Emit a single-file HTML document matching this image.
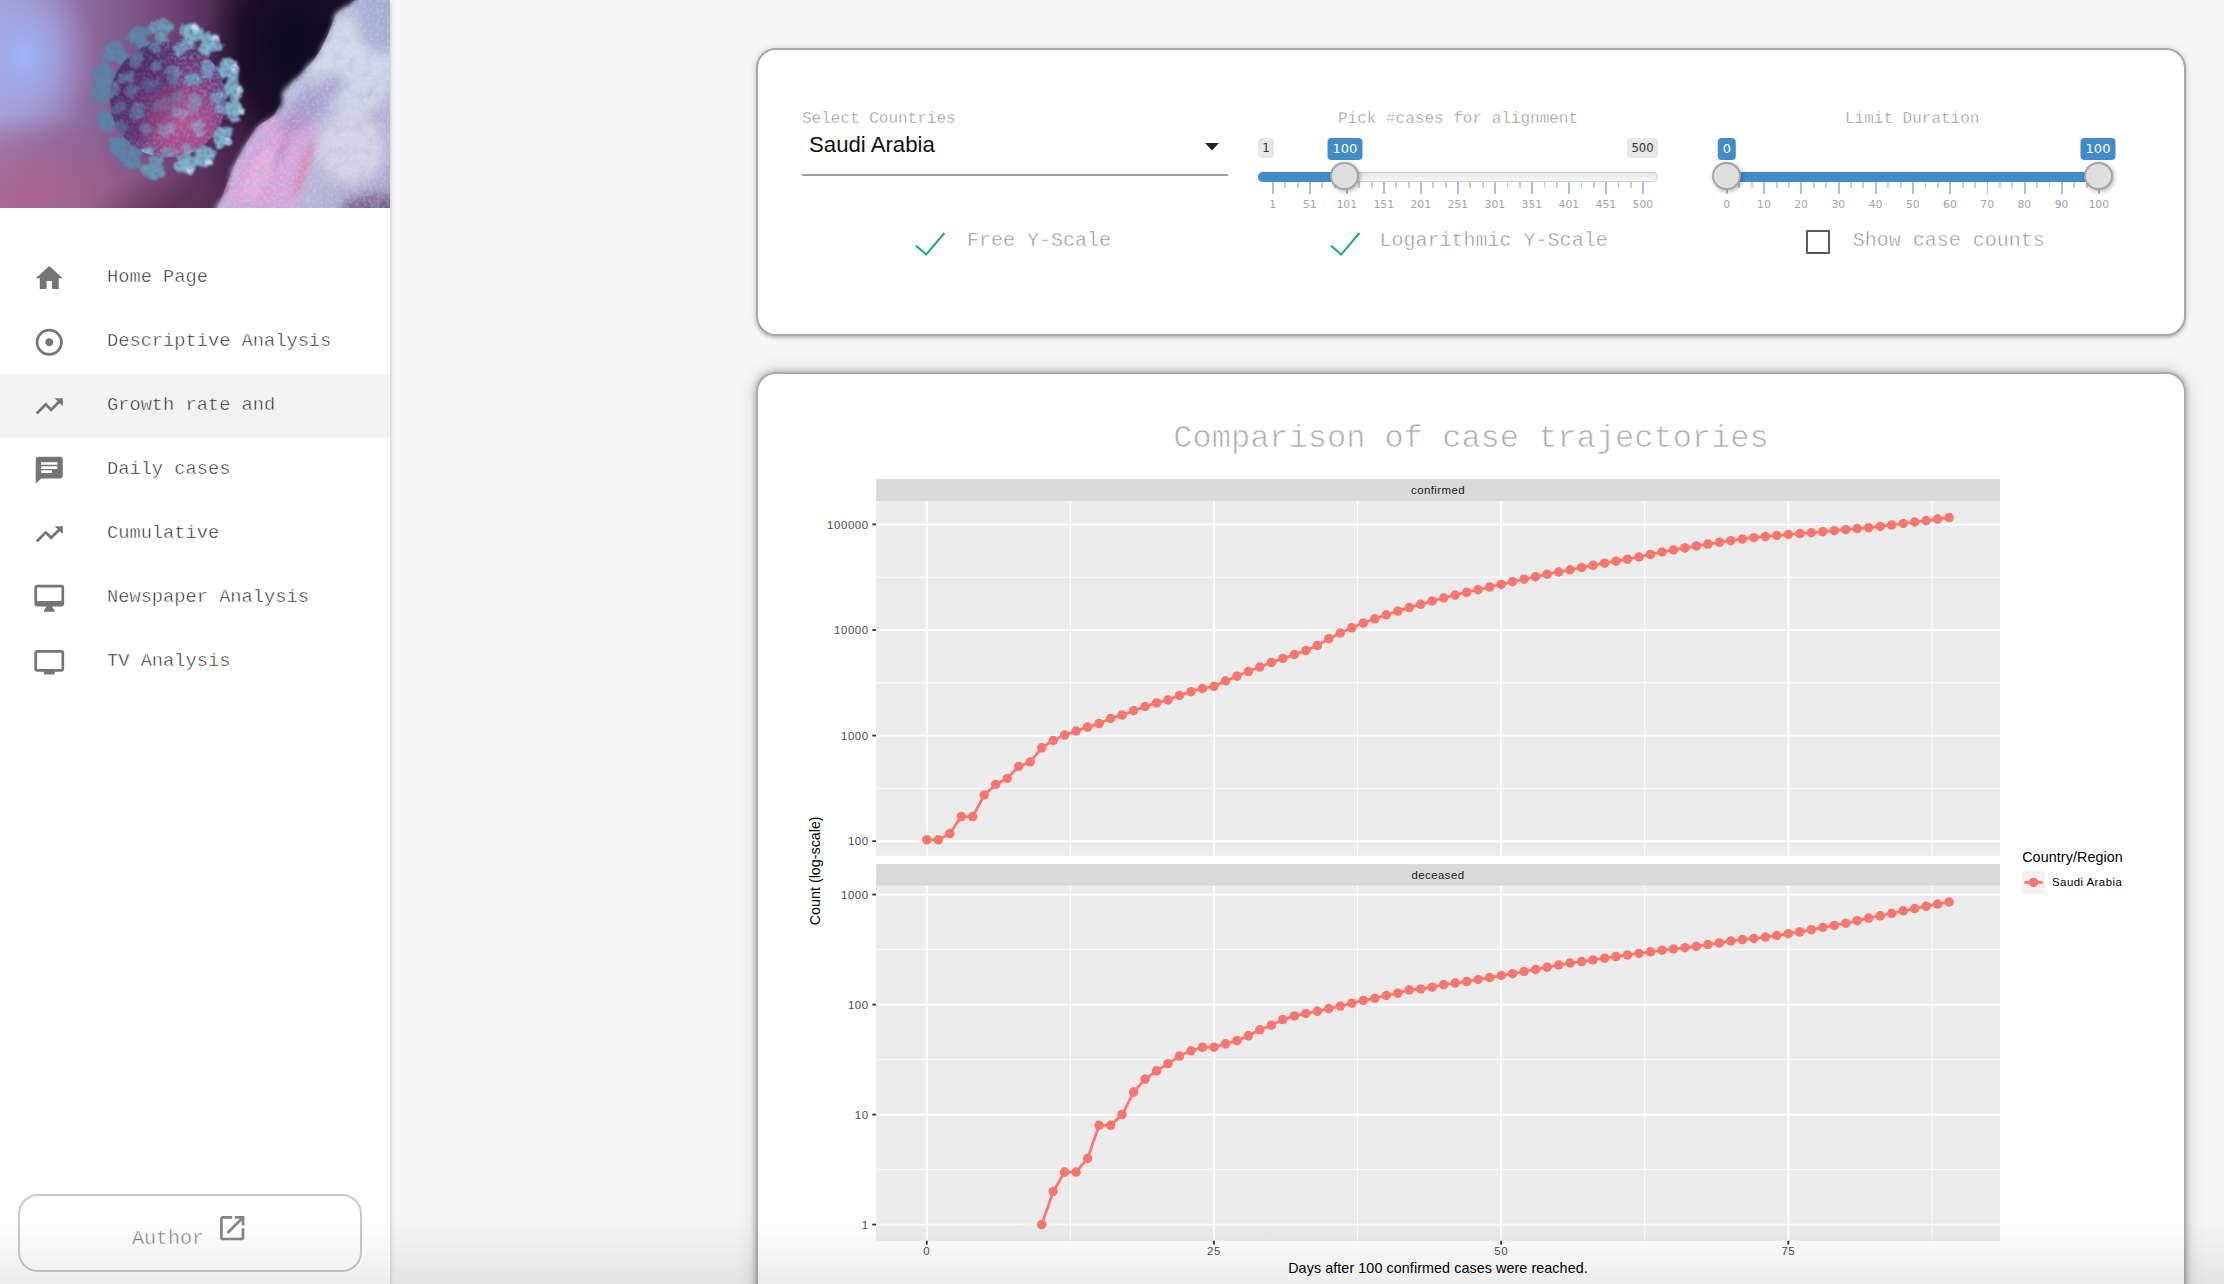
<!DOCTYPE html><html><head><meta charset="utf-8"><title>COVID-19 Growth rate</title><style>
*{box-sizing:border-box;margin:0;padding:0}
html,body{width:2224px;height:1284px;overflow:hidden;background:#f5f5f5}
body{position:relative;font-family:"Liberation Mono", monospace;color:#333}
.abs{position:absolute}
#side{position:absolute;left:0;top:0;width:390px;height:1284px;background:#fff;
  box-shadow:0 3px 3px 0 rgba(0,0,0,0.14),0 1px 7px 0 rgba(0,0,0,0.12),0 4px 1px -2px rgba(0,0,0,0.2)}
#hero{position:absolute;left:0;top:0;width:390px;height:208px;overflow:hidden}
.nav{position:absolute;left:0;width:390px;height:64px}
.nav.act{background:#f2f2f2}
.nav svg{position:absolute;left:33px;top:16.1px;width:32.5px;height:32.5px;fill:#757575}
.nav span{position:absolute;left:107px;top:-0.7px;height:64px;line-height:64px;font-size:18.7px;color:#222;-webkit-text-stroke:0.5px #fff;white-space:pre}
.nav.act span{-webkit-text-stroke-color:#f2f2f2}
#author{position:absolute;left:18px;top:1194px;width:344px;height:78px;border:2px solid #c9c9c9;border-radius:20px;background:#fff}
.card{position:absolute;background:#fff;border:2px solid #a8a8a8;border-radius:20px}
.sa{font-family:"Liberation Sans", sans-serif;font-size:22.2px;line-height:28px;color:#111;white-space:pre}
.lbl{position:absolute;font-size:16px;color:#909090;-webkit-text-stroke:0.4px #fff;white-space:pre;line-height:20px}
.cb{position:absolute;font-size:20px;color:#909090;-webkit-text-stroke:0.5px #fff;white-space:pre;line-height:24px}
.irs{position:absolute;font-family:"DejaVu Sans", "Liberation Sans", sans-serif}
.irs div{position:absolute}
.irs .line{left:0;top:0;width:400px;height:10.4px;border:1.3px solid #ccc;border-radius:10.4px;background:linear-gradient(to bottom,#ddd -50%,#fff 150%)}
.irs .bar{height:10.4px;background:#428bca;border-top:1.3px solid #428bca;border-bottom:1.3px solid #428bca}
.irs .h{width:29px;height:28.2px;border-radius:50%;border:2.2px solid #a6a6a6;background:#dedede;box-shadow:1.3px 1.3px 4px rgba(0,0,0,0.32)}
.irs .mm{background:#e6e6e6;color:#333;font-size:11.7px;line-height:18.3px;padding:1.3px 4.3px 0;border-radius:4px;white-space:pre}
.irs .sg{background:#428bca;color:#fff;font-size:13px;line-height:19px;padding:0.7px 5.1px 1.9px;border-radius:4px;white-space:pre;text-align:center}
.irs .gt{color:#99a4ac;font-size:10.8px;line-height:12px;white-space:pre;transform:translateX(-50%)}
.irs .bt{width:1.9px;height:11.8px;background:rgba(66,139,202,0.5)}
.irs .st{width:1.9px;height:6px;background:rgba(153,153,153,0.5)}
</style></head><body><div class="card" id="c1" style="left:756px;top:48px;width:1430px;height:288px;box-shadow:0 2px 3px rgba(0,0,0,0.18),0 0 7px rgba(0,0,0,0.12)"></div><div class="lbl" style="left:802px;top:108.5px">Select Countries</div><div class="abs sa" style="left:809px;top:131px">Saudi Arabia</div><svg class="abs" style="left:1205px;top:143px" width="14" height="8" viewBox="0 0 14 8"><path d="M0 0h14L7 7.5z" fill="#222"/></svg><div class="abs" style="left:802px;top:173.6px;width:426px;height:2px;background:#9e9e9e"></div><div class="lbl" style="left:1338px;top:108.5px">Pick #cases for alignment</div><div class="lbl" style="left:1845px;top:108.5px">Limit Duration</div><div class="irs" style="left:1258px;top:138px;width:400px;height:80px"><div class="line" style="top:34px"></div><div class="bar" style="left:5px;top:34px;width:83.1465px;border-radius:10px 0 0 10px"></div><div class="bar" style="left:0;top:34px;width:12px;border-radius:10.4px 0 0 10.4px"></div><div class="bt" style="left:14.05px;top:44px"></div><div class="gt" style="left:14.7px;top:61px">1</div><div class="st" style="left:26.39px;top:44px"></div><div class="st" style="left:38.73px;top:44px"></div><div class="bt" style="left:51.07px;top:44px"></div><div class="gt" style="left:51.72px;top:61px">51</div><div class="st" style="left:63.41px;top:44px"></div><div class="st" style="left:75.75px;top:44px"></div><div class="bt" style="left:88.09px;top:44px"></div><div class="gt" style="left:88.74px;top:61px">101</div><div class="st" style="left:100.43px;top:44px"></div><div class="st" style="left:112.77px;top:44px"></div><div class="bt" style="left:125.11px;top:44px"></div><div class="gt" style="left:125.76px;top:61px">151</div><div class="st" style="left:137.45px;top:44px"></div><div class="st" style="left:149.79px;top:44px"></div><div class="bt" style="left:162.13px;top:44px"></div><div class="gt" style="left:162.78px;top:61px">201</div><div class="st" style="left:174.47px;top:44px"></div><div class="st" style="left:186.81px;top:44px"></div><div class="bt" style="left:199.15px;top:44px"></div><div class="gt" style="left:199.8px;top:61px">251</div><div class="st" style="left:211.49px;top:44px"></div><div class="st" style="left:223.83px;top:44px"></div><div class="bt" style="left:236.17px;top:44px"></div><div class="gt" style="left:236.82px;top:61px">301</div><div class="st" style="left:248.51px;top:44px"></div><div class="st" style="left:260.85px;top:44px"></div><div class="bt" style="left:273.19px;top:44px"></div><div class="gt" style="left:273.84px;top:61px">351</div><div class="st" style="left:285.53px;top:44px"></div><div class="st" style="left:297.87px;top:44px"></div><div class="bt" style="left:310.21px;top:44px"></div><div class="gt" style="left:310.86px;top:61px">401</div><div class="st" style="left:322.55px;top:44px"></div><div class="st" style="left:334.89px;top:44px"></div><div class="bt" style="left:347.23px;top:44px"></div><div class="gt" style="left:347.88px;top:61px">451</div><div class="st" style="left:359.57px;top:44px"></div><div class="st" style="left:371.91px;top:44px"></div><div class="bt" style="left:384.25px;top:44px"></div><div class="gt" style="left:384.9px;top:61px">500</div><div class="mm" style="left:0;top:0">1</div><div class="mm" style="right:0;top:0">500</div><div class="sg" style="left:86.8px;top:0;transform:translateX(-50%)">100</div><div class="h" style="left:72.3px;top:24.1px"></div></div><div class="irs" style="left:1712px;top:138px;width:400px;height:80px"><div class="line" style="top:34px"></div><div class="bar" style="left:14.7px;top:34px;width:372.1px"></div><div class="bt" style="left:14.05px;top:44px"></div><div class="gt" style="left:14.7px;top:61px">0</div><div class="st" style="left:26.4533px;top:44px"></div><div class="st" style="left:38.8567px;top:44px"></div><div class="bt" style="left:51.26px;top:44px"></div><div class="gt" style="left:51.91px;top:61px">10</div><div class="st" style="left:63.6633px;top:44px"></div><div class="st" style="left:76.0667px;top:44px"></div><div class="bt" style="left:88.47px;top:44px"></div><div class="gt" style="left:89.12px;top:61px">20</div><div class="st" style="left:100.873px;top:44px"></div><div class="st" style="left:113.277px;top:44px"></div><div class="bt" style="left:125.68px;top:44px"></div><div class="gt" style="left:126.33px;top:61px">30</div><div class="st" style="left:138.083px;top:44px"></div><div class="st" style="left:150.487px;top:44px"></div><div class="bt" style="left:162.89px;top:44px"></div><div class="gt" style="left:163.54px;top:61px">40</div><div class="st" style="left:175.293px;top:44px"></div><div class="st" style="left:187.697px;top:44px"></div><div class="bt" style="left:200.1px;top:44px"></div><div class="gt" style="left:200.75px;top:61px">50</div><div class="st" style="left:212.503px;top:44px"></div><div class="st" style="left:224.907px;top:44px"></div><div class="bt" style="left:237.31px;top:44px"></div><div class="gt" style="left:237.96px;top:61px">60</div><div class="st" style="left:249.713px;top:44px"></div><div class="st" style="left:262.117px;top:44px"></div><div class="bt" style="left:274.52px;top:44px"></div><div class="gt" style="left:275.17px;top:61px">70</div><div class="st" style="left:286.923px;top:44px"></div><div class="st" style="left:299.327px;top:44px"></div><div class="bt" style="left:311.73px;top:44px"></div><div class="gt" style="left:312.38px;top:61px">80</div><div class="st" style="left:324.133px;top:44px"></div><div class="st" style="left:336.537px;top:44px"></div><div class="bt" style="left:348.94px;top:44px"></div><div class="gt" style="left:349.59px;top:61px">90</div><div class="st" style="left:361.343px;top:44px"></div><div class="st" style="left:373.747px;top:44px"></div><div class="bt" style="left:386.15px;top:44px"></div><div class="gt" style="left:386.8px;top:61px">100</div><div class="sg" style="left:14.9px;top:0;transform:translateX(-50%)">0</div><div class="h" style="left:0.4px;top:24.1px"></div><div class="sg" style="left:386px;top:0;transform:translateX(-50%)">100</div><div class="h" style="left:371.5px;top:24.1px"></div></div><svg class="abs" style="left:915.3px;top:228px" width="40" height="32" viewBox="0 0 40 32"><path d="M0.9 17.6L11.2 26.5L29.4 5" fill="none" stroke="#26a69a" stroke-width="2.1"/></svg><div class="cb" style="left:967px;top:229px">Free Y-Scale</div><svg class="abs" style="left:1329.5px;top:228px" width="40" height="32" viewBox="0 0 40 32"><path d="M0.9 17.6L11.2 26.5L29.4 5" fill="none" stroke="#26a69a" stroke-width="2.1"/></svg><div class="cb" style="left:1379.6px;top:229px">Logarithmic Y-Scale</div><div class="abs" style="left:1806.3px;top:230.3px;width:23.5px;height:23.5px;border:2.6px solid #5a5a5a;border-radius:1.3px"></div><div class="cb" style="left:1852.8px;top:229px">Show case counts</div><div class="card" id="c2" style="left:756px;top:372px;width:1430px;height:960px;border-color:#adadad;box-shadow:0 0 6px rgba(0,0,0,0.32),0 0 22px rgba(0,0,0,0.13)"></div><div class="abs" style="left:758px;top:418.7px;width:1426px;text-align:center;font-size:32px;line-height:40px;color:#adadad;-webkit-text-stroke:0.7px #fff;white-space:pre">Comparison of case trajectories</div><svg class="abs" style="left:0;top:0" width="2224" height="1284" viewBox="0 0 2224 1284" font-family="Liberation Sans, sans-serif"><rect x="876.1" y="479.1" width="1123.9" height="22" fill="#d9d9d9"/><rect x="876.1" y="501.1" width="1123.9" height="354.7" fill="#ebebeb"/><text x="1438.05" y="494.2" text-anchor="middle" font-size="11.44" letter-spacing="0.42" fill="#1a1a1a">confirmed</text><rect x="876.1" y="864.1" width="1123.9" height="21.7" fill="#d9d9d9"/><rect x="876.1" y="885.8" width="1123.9" height="355" fill="#ebebeb"/><text x="1438.05" y="879.05" text-anchor="middle" font-size="11.44" letter-spacing="0.42" fill="#1a1a1a">deceased</text><path d="M1070.39 501.1V855.8" stroke="#fff" stroke-width="0.9"/><path d="M1357.56 501.1V855.8" stroke="#fff" stroke-width="0.9"/><path d="M1644.74 501.1V855.8" stroke="#fff" stroke-width="0.9"/><path d="M1931.91 501.1V855.8" stroke="#fff" stroke-width="0.9"/><path d="M876.1 788.4H2000" stroke="#fff" stroke-width="0.9"/><path d="M876.1 682.8H2000" stroke="#fff" stroke-width="0.9"/><path d="M876.1 577.2H2000" stroke="#fff" stroke-width="0.9"/><path d="M926.8 501.1V855.8" stroke="#fff" stroke-width="1.85"/><path d="M1213.97 501.1V855.8" stroke="#fff" stroke-width="1.85"/><path d="M1501.15 501.1V855.8" stroke="#fff" stroke-width="1.85"/><path d="M1788.32 501.1V855.8" stroke="#fff" stroke-width="1.85"/><path d="M876.1 841.2H2000" stroke="#fff" stroke-width="1.85"/><path d="M876.1 735.6H2000" stroke="#fff" stroke-width="1.85"/><path d="M876.1 630H2000" stroke="#fff" stroke-width="1.85"/><path d="M876.1 524.4H2000" stroke="#fff" stroke-width="1.85"/><path d="M1070.39 885.8V1240.8" stroke="#fff" stroke-width="0.9"/><path d="M1357.56 885.8V1240.8" stroke="#fff" stroke-width="0.9"/><path d="M1644.74 885.8V1240.8" stroke="#fff" stroke-width="0.9"/><path d="M1931.91 885.8V1240.8" stroke="#fff" stroke-width="0.9"/><path d="M876.1 1169.6H2000" stroke="#fff" stroke-width="0.9"/><path d="M876.1 1059.6H2000" stroke="#fff" stroke-width="0.9"/><path d="M876.1 949.6H2000" stroke="#fff" stroke-width="0.9"/><path d="M926.8 885.8V1240.8" stroke="#fff" stroke-width="1.85"/><path d="M1213.97 885.8V1240.8" stroke="#fff" stroke-width="1.85"/><path d="M1501.15 885.8V1240.8" stroke="#fff" stroke-width="1.85"/><path d="M1788.32 885.8V1240.8" stroke="#fff" stroke-width="1.85"/><path d="M876.1 1224.6H2000" stroke="#fff" stroke-width="1.85"/><path d="M876.1 1114.6H2000" stroke="#fff" stroke-width="1.85"/><path d="M876.1 1004.6H2000" stroke="#fff" stroke-width="1.85"/><path d="M876.1 894.6H2000" stroke="#fff" stroke-width="1.85"/><path d="M872.3 841.2H876.1" stroke="#333" stroke-width="1.85"/><text x="868.8" y="845.3" text-anchor="end" font-size="11.44" letter-spacing="0.6" fill="#4d4d4d">100</text><path d="M872.3 735.6H876.1" stroke="#333" stroke-width="1.85"/><text x="868.8" y="739.7" text-anchor="end" font-size="11.44" letter-spacing="0.6" fill="#4d4d4d">1000</text><path d="M872.3 630H876.1" stroke="#333" stroke-width="1.85"/><text x="868.8" y="634.1" text-anchor="end" font-size="11.44" letter-spacing="0.6" fill="#4d4d4d">10000</text><path d="M872.3 524.4H876.1" stroke="#333" stroke-width="1.85"/><text x="868.8" y="528.5" text-anchor="end" font-size="11.44" letter-spacing="0.6" fill="#4d4d4d">100000</text><path d="M872.3 1224.6H876.1" stroke="#333" stroke-width="1.85"/><text x="868.8" y="1228.7" text-anchor="end" font-size="11.44" letter-spacing="0.6" fill="#4d4d4d">1</text><path d="M872.3 1114.6H876.1" stroke="#333" stroke-width="1.85"/><text x="868.8" y="1118.7" text-anchor="end" font-size="11.44" letter-spacing="0.6" fill="#4d4d4d">10</text><path d="M872.3 1004.6H876.1" stroke="#333" stroke-width="1.85"/><text x="868.8" y="1008.7" text-anchor="end" font-size="11.44" letter-spacing="0.6" fill="#4d4d4d">100</text><path d="M872.3 894.6H876.1" stroke="#333" stroke-width="1.85"/><text x="868.8" y="898.7" text-anchor="end" font-size="11.44" letter-spacing="0.6" fill="#4d4d4d">1000</text><path d="M926.8 1240.8V1244.6" stroke="#333" stroke-width="1.85"/><text x="926.8" y="1254.9" text-anchor="middle" font-size="11.44" letter-spacing="0.5" fill="#4d4d4d">0</text><path d="M1213.97 1240.8V1244.6" stroke="#333" stroke-width="1.85"/><text x="1213.97" y="1254.9" text-anchor="middle" font-size="11.44" letter-spacing="0.5" fill="#4d4d4d">25</text><path d="M1501.15 1240.8V1244.6" stroke="#333" stroke-width="1.85"/><text x="1501.15" y="1254.9" text-anchor="middle" font-size="11.44" letter-spacing="0.5" fill="#4d4d4d">50</text><path d="M1788.32 1240.8V1244.6" stroke="#333" stroke-width="1.85"/><text x="1788.32" y="1254.9" text-anchor="middle" font-size="11.44" letter-spacing="0.5" fill="#4d4d4d">75</text><text x="1438" y="1272.9" text-anchor="middle" font-size="14.3" letter-spacing="0.09" fill="#000">Days after 100 confirmed cases were reached.</text><text transform="translate(819.8 870.8) rotate(-90)" text-anchor="middle" font-size="14.3" fill="#000">Count (log-scale)</text><polyline fill="none" stroke="#f8766d" stroke-width="2.7" stroke-linejoin="round" points="926.8,839.8 938.3,839.8 949.8,833.6 961.3,816.6 972.7,816.6 984.2,795.0 995.7,784.5 1007.2,778.5 1018.7,766.4 1030.2,762.0 1041.7,747.8 1053.2,740.4 1064.6,735.1 1076.1,731.1 1087.6,727.1 1099.1,723.6 1110.6,718.5 1122.1,715.1 1133.6,710.7 1145.1,706.5 1156.5,702.9 1168.0,699.9 1179.5,695.4 1191.0,691.7 1202.5,688.5 1214.0,686.3 1225.5,681.0 1236.9,676.2 1248.4,671.6 1259.9,667.0 1271.4,662.4 1282.9,658.5 1294.4,654.5 1305.9,650.6 1317.4,645.4 1328.8,638.7 1340.3,633.0 1351.8,627.8 1363.3,623.1 1374.8,618.8 1386.3,614.8 1397.8,611.1 1409.3,607.6 1420.7,604.3 1432.2,601.0 1443.7,598.0 1455.2,595.1 1466.7,592.3 1478.2,589.7 1489.7,587.1 1501.2,584.4 1512.6,581.7 1524.1,579.2 1535.6,576.7 1547.1,574.2 1558.6,572.0 1570.1,569.8 1581.6,567.5 1593.0,565.3 1604.5,563.2 1616.0,561.2 1627.5,559.2 1639.0,557.0 1650.5,554.4 1662.0,552.0 1673.5,549.9 1684.9,547.9 1696.4,545.9 1707.9,544.1 1719.4,542.3 1730.9,540.7 1742.4,539.1 1753.9,537.7 1765.4,536.6 1776.8,535.5 1788.3,534.5 1799.8,533.6 1811.3,532.7 1822.8,531.7 1834.3,530.7 1845.8,529.7 1857.2,528.6 1868.7,527.7 1880.2,526.4 1891.7,524.9 1903.2,523.5 1914.7,522.0 1926.2,520.6 1937.7,519.1 1949.1,517.6"/><g fill="#f8766d"><circle cx="926.8" cy="839.8" r="4.75"/><circle cx="938.3" cy="839.8" r="4.75"/><circle cx="949.8" cy="833.6" r="4.75"/><circle cx="961.3" cy="816.6" r="4.75"/><circle cx="972.7" cy="816.6" r="4.75"/><circle cx="984.2" cy="795.0" r="4.75"/><circle cx="995.7" cy="784.5" r="4.75"/><circle cx="1007.2" cy="778.5" r="4.75"/><circle cx="1018.7" cy="766.4" r="4.75"/><circle cx="1030.2" cy="762.0" r="4.75"/><circle cx="1041.7" cy="747.8" r="4.75"/><circle cx="1053.2" cy="740.4" r="4.75"/><circle cx="1064.6" cy="735.1" r="4.75"/><circle cx="1076.1" cy="731.1" r="4.75"/><circle cx="1087.6" cy="727.1" r="4.75"/><circle cx="1099.1" cy="723.6" r="4.75"/><circle cx="1110.6" cy="718.5" r="4.75"/><circle cx="1122.1" cy="715.1" r="4.75"/><circle cx="1133.6" cy="710.7" r="4.75"/><circle cx="1145.1" cy="706.5" r="4.75"/><circle cx="1156.5" cy="702.9" r="4.75"/><circle cx="1168.0" cy="699.9" r="4.75"/><circle cx="1179.5" cy="695.4" r="4.75"/><circle cx="1191.0" cy="691.7" r="4.75"/><circle cx="1202.5" cy="688.5" r="4.75"/><circle cx="1214.0" cy="686.3" r="4.75"/><circle cx="1225.5" cy="681.0" r="4.75"/><circle cx="1236.9" cy="676.2" r="4.75"/><circle cx="1248.4" cy="671.6" r="4.75"/><circle cx="1259.9" cy="667.0" r="4.75"/><circle cx="1271.4" cy="662.4" r="4.75"/><circle cx="1282.9" cy="658.5" r="4.75"/><circle cx="1294.4" cy="654.5" r="4.75"/><circle cx="1305.9" cy="650.6" r="4.75"/><circle cx="1317.4" cy="645.4" r="4.75"/><circle cx="1328.8" cy="638.7" r="4.75"/><circle cx="1340.3" cy="633.0" r="4.75"/><circle cx="1351.8" cy="627.8" r="4.75"/><circle cx="1363.3" cy="623.1" r="4.75"/><circle cx="1374.8" cy="618.8" r="4.75"/><circle cx="1386.3" cy="614.8" r="4.75"/><circle cx="1397.8" cy="611.1" r="4.75"/><circle cx="1409.3" cy="607.6" r="4.75"/><circle cx="1420.7" cy="604.3" r="4.75"/><circle cx="1432.2" cy="601.0" r="4.75"/><circle cx="1443.7" cy="598.0" r="4.75"/><circle cx="1455.2" cy="595.1" r="4.75"/><circle cx="1466.7" cy="592.3" r="4.75"/><circle cx="1478.2" cy="589.7" r="4.75"/><circle cx="1489.7" cy="587.1" r="4.75"/><circle cx="1501.2" cy="584.4" r="4.75"/><circle cx="1512.6" cy="581.7" r="4.75"/><circle cx="1524.1" cy="579.2" r="4.75"/><circle cx="1535.6" cy="576.7" r="4.75"/><circle cx="1547.1" cy="574.2" r="4.75"/><circle cx="1558.6" cy="572.0" r="4.75"/><circle cx="1570.1" cy="569.8" r="4.75"/><circle cx="1581.6" cy="567.5" r="4.75"/><circle cx="1593.0" cy="565.3" r="4.75"/><circle cx="1604.5" cy="563.2" r="4.75"/><circle cx="1616.0" cy="561.2" r="4.75"/><circle cx="1627.5" cy="559.2" r="4.75"/><circle cx="1639.0" cy="557.0" r="4.75"/><circle cx="1650.5" cy="554.4" r="4.75"/><circle cx="1662.0" cy="552.0" r="4.75"/><circle cx="1673.5" cy="549.9" r="4.75"/><circle cx="1684.9" cy="547.9" r="4.75"/><circle cx="1696.4" cy="545.9" r="4.75"/><circle cx="1707.9" cy="544.1" r="4.75"/><circle cx="1719.4" cy="542.3" r="4.75"/><circle cx="1730.9" cy="540.7" r="4.75"/><circle cx="1742.4" cy="539.1" r="4.75"/><circle cx="1753.9" cy="537.7" r="4.75"/><circle cx="1765.4" cy="536.6" r="4.75"/><circle cx="1776.8" cy="535.5" r="4.75"/><circle cx="1788.3" cy="534.5" r="4.75"/><circle cx="1799.8" cy="533.6" r="4.75"/><circle cx="1811.3" cy="532.7" r="4.75"/><circle cx="1822.8" cy="531.7" r="4.75"/><circle cx="1834.3" cy="530.7" r="4.75"/><circle cx="1845.8" cy="529.7" r="4.75"/><circle cx="1857.2" cy="528.6" r="4.75"/><circle cx="1868.7" cy="527.7" r="4.75"/><circle cx="1880.2" cy="526.4" r="4.75"/><circle cx="1891.7" cy="524.9" r="4.75"/><circle cx="1903.2" cy="523.5" r="4.75"/><circle cx="1914.7" cy="522.0" r="4.75"/><circle cx="1926.2" cy="520.6" r="4.75"/><circle cx="1937.7" cy="519.1" r="4.75"/><circle cx="1949.1" cy="517.6" r="4.75"/></g><polyline fill="none" stroke="#f8766d" stroke-width="2.7" stroke-linejoin="round" points="1041.7,1224.6 1053.2,1191.5 1064.6,1172.1 1076.1,1172.1 1087.6,1158.4 1099.1,1125.3 1110.6,1125.3 1122.1,1114.6 1133.6,1092.1 1145.1,1079.2 1156.5,1070.8 1168.0,1063.7 1179.5,1056.1 1191.0,1050.8 1202.5,1047.2 1214.0,1047.2 1225.5,1043.8 1236.9,1040.7 1248.4,1035.8 1259.9,1029.8 1271.4,1025.2 1282.9,1019.6 1294.4,1015.9 1305.9,1013.5 1317.4,1011.3 1328.8,1008.6 1340.3,1006.1 1351.8,1003.2 1363.3,1000.5 1374.8,998.3 1386.3,995.5 1397.8,993.2 1409.3,989.9 1420.7,988.9 1432.2,987.2 1443.7,984.6 1455.2,983.1 1466.7,981.6 1478.2,979.5 1489.7,977.6 1501.2,975.5 1512.6,973.7 1524.1,971.5 1535.6,969.4 1547.1,967.2 1558.6,965.0 1570.1,963.0 1581.6,961.6 1593.0,959.9 1604.5,958.2 1616.0,956.6 1627.5,954.9 1639.0,953.4 1650.5,951.8 1662.0,950.2 1673.5,949.0 1684.9,947.7 1696.4,946.3 1707.9,944.6 1719.4,942.9 1730.9,940.9 1742.4,939.6 1753.9,938.5 1765.4,937.1 1776.8,935.5 1788.3,933.7 1799.8,931.9 1811.3,929.7 1822.8,927.4 1834.3,925.4 1845.8,923.2 1857.2,920.7 1868.7,918.1 1880.2,915.8 1891.7,913.3 1903.2,910.8 1914.7,908.6 1926.2,906.3 1937.7,904.1 1949.1,902.0"/><g fill="#f8766d"><circle cx="1041.7" cy="1224.6" r="4.75"/><circle cx="1053.2" cy="1191.5" r="4.75"/><circle cx="1064.6" cy="1172.1" r="4.75"/><circle cx="1076.1" cy="1172.1" r="4.75"/><circle cx="1087.6" cy="1158.4" r="4.75"/><circle cx="1099.1" cy="1125.3" r="4.75"/><circle cx="1110.6" cy="1125.3" r="4.75"/><circle cx="1122.1" cy="1114.6" r="4.75"/><circle cx="1133.6" cy="1092.1" r="4.75"/><circle cx="1145.1" cy="1079.2" r="4.75"/><circle cx="1156.5" cy="1070.8" r="4.75"/><circle cx="1168.0" cy="1063.7" r="4.75"/><circle cx="1179.5" cy="1056.1" r="4.75"/><circle cx="1191.0" cy="1050.8" r="4.75"/><circle cx="1202.5" cy="1047.2" r="4.75"/><circle cx="1214.0" cy="1047.2" r="4.75"/><circle cx="1225.5" cy="1043.8" r="4.75"/><circle cx="1236.9" cy="1040.7" r="4.75"/><circle cx="1248.4" cy="1035.8" r="4.75"/><circle cx="1259.9" cy="1029.8" r="4.75"/><circle cx="1271.4" cy="1025.2" r="4.75"/><circle cx="1282.9" cy="1019.6" r="4.75"/><circle cx="1294.4" cy="1015.9" r="4.75"/><circle cx="1305.9" cy="1013.5" r="4.75"/><circle cx="1317.4" cy="1011.3" r="4.75"/><circle cx="1328.8" cy="1008.6" r="4.75"/><circle cx="1340.3" cy="1006.1" r="4.75"/><circle cx="1351.8" cy="1003.2" r="4.75"/><circle cx="1363.3" cy="1000.5" r="4.75"/><circle cx="1374.8" cy="998.3" r="4.75"/><circle cx="1386.3" cy="995.5" r="4.75"/><circle cx="1397.8" cy="993.2" r="4.75"/><circle cx="1409.3" cy="989.9" r="4.75"/><circle cx="1420.7" cy="988.9" r="4.75"/><circle cx="1432.2" cy="987.2" r="4.75"/><circle cx="1443.7" cy="984.6" r="4.75"/><circle cx="1455.2" cy="983.1" r="4.75"/><circle cx="1466.7" cy="981.6" r="4.75"/><circle cx="1478.2" cy="979.5" r="4.75"/><circle cx="1489.7" cy="977.6" r="4.75"/><circle cx="1501.2" cy="975.5" r="4.75"/><circle cx="1512.6" cy="973.7" r="4.75"/><circle cx="1524.1" cy="971.5" r="4.75"/><circle cx="1535.6" cy="969.4" r="4.75"/><circle cx="1547.1" cy="967.2" r="4.75"/><circle cx="1558.6" cy="965.0" r="4.75"/><circle cx="1570.1" cy="963.0" r="4.75"/><circle cx="1581.6" cy="961.6" r="4.75"/><circle cx="1593.0" cy="959.9" r="4.75"/><circle cx="1604.5" cy="958.2" r="4.75"/><circle cx="1616.0" cy="956.6" r="4.75"/><circle cx="1627.5" cy="954.9" r="4.75"/><circle cx="1639.0" cy="953.4" r="4.75"/><circle cx="1650.5" cy="951.8" r="4.75"/><circle cx="1662.0" cy="950.2" r="4.75"/><circle cx="1673.5" cy="949.0" r="4.75"/><circle cx="1684.9" cy="947.7" r="4.75"/><circle cx="1696.4" cy="946.3" r="4.75"/><circle cx="1707.9" cy="944.6" r="4.75"/><circle cx="1719.4" cy="942.9" r="4.75"/><circle cx="1730.9" cy="940.9" r="4.75"/><circle cx="1742.4" cy="939.6" r="4.75"/><circle cx="1753.9" cy="938.5" r="4.75"/><circle cx="1765.4" cy="937.1" r="4.75"/><circle cx="1776.8" cy="935.5" r="4.75"/><circle cx="1788.3" cy="933.7" r="4.75"/><circle cx="1799.8" cy="931.9" r="4.75"/><circle cx="1811.3" cy="929.7" r="4.75"/><circle cx="1822.8" cy="927.4" r="4.75"/><circle cx="1834.3" cy="925.4" r="4.75"/><circle cx="1845.8" cy="923.2" r="4.75"/><circle cx="1857.2" cy="920.7" r="4.75"/><circle cx="1868.7" cy="918.1" r="4.75"/><circle cx="1880.2" cy="915.8" r="4.75"/><circle cx="1891.7" cy="913.3" r="4.75"/><circle cx="1903.2" cy="910.8" r="4.75"/><circle cx="1914.7" cy="908.6" r="4.75"/><circle cx="1926.2" cy="906.3" r="4.75"/><circle cx="1937.7" cy="904.1" r="4.75"/><circle cx="1949.1" cy="902.0" r="4.75"/></g><text x="2022.2" y="861.9" font-size="14.3" letter-spacing="0.1" fill="#000">Country/Region</text><rect x="2022.1" y="871.2" width="22.8" height="22.6" fill="#f2f2f2"/><path d="M2024.3 882.4H2042.7" stroke="#f8766d" stroke-width="2.7"/><circle cx="2033.5" cy="882.4" r="4.75" fill="#f8766d"/><text x="2052" y="886" font-size="11.44" letter-spacing="0.45" fill="#000">Saudi Arabia</text></svg><div id="side"><div id="hero"><svg width="390" height="208" viewBox="0 0 390 208" style="display:block"><defs>
<linearGradient id="hbg" x1="0" y1="0" x2="1" y2="0"><stop offset="0" stop-color="#a79ed4"/><stop offset="0.2" stop-color="#8f6fa4"/><stop offset="0.42" stop-color="#74487a"/><stop offset="0.6" stop-color="#45224a"/><stop offset="0.75" stop-color="#1c102a"/><stop offset="1" stop-color="#1a0f28"/></linearGradient>
<radialGradient id="hblue"><stop offset="0" stop-color="#9cb6fa" stop-opacity="0.97"/><stop offset="0.5" stop-color="#a3aaea" stop-opacity="0.6"/><stop offset="1" stop-color="#a79ed4" stop-opacity="0"/></radialGradient>
<radialGradient id="hrose"><stop offset="0" stop-color="#ad628c" stop-opacity="0.95"/><stop offset="0.6" stop-color="#9a5a86" stop-opacity="0.6"/><stop offset="1" stop-color="#8a5080" stop-opacity="0"/></radialGradient>
<radialGradient id="hdark"><stop offset="0" stop-color="#0c0a1e" stop-opacity="1"/><stop offset="0.6" stop-color="#160c26" stop-opacity="0.8"/><stop offset="1" stop-color="#1a0f28" stop-opacity="0"/></radialGradient>
<radialGradient id="hmaroon"><stop offset="0" stop-color="#5e2c4e" stop-opacity="0.9"/><stop offset="1" stop-color="#5e2c4e" stop-opacity="0"/></radialGradient>
<radialGradient id="hbody" cx="0.6" cy="0.68" r="0.62"><stop offset="0" stop-color="#b25690"/><stop offset="0.5" stop-color="#86488c"/><stop offset="1" stop-color="#5a3872"/></radialGradient>
<linearGradient id="hmass" x1="0" y1="0" x2="1" y2="1"><stop offset="0" stop-color="#a8aed2"/><stop offset="0.5" stop-color="#c0c2e0"/><stop offset="1" stop-color="#aaa2c8"/></linearGradient>
<filter id="hb1" x="-20%" y="-20%" width="140%" height="140%"><feGaussianBlur stdDeviation="0.8"/></filter>
<filter id="hb2" x="-20%" y="-20%" width="140%" height="140%"><feGaussianBlur stdDeviation="2.5"/></filter>
<filter id="hb5" x="-30%" y="-30%" width="160%" height="160%"><feGaussianBlur stdDeviation="6"/></filter>
<filter id="hrough" x="-10%" y="-10%" width="120%" height="120%"><feTurbulence type="fractalNoise" baseFrequency="0.22" numOctaves="2" seed="3" result="n"/><feDisplacementMap in="SourceGraphic" in2="n" scale="7" xChannelSelector="R" yChannelSelector="G"/><feGaussianBlur stdDeviation="0.5"/></filter>
<filter id="hmrough" x="-10%" y="-10%" width="120%" height="120%"><feTurbulence type="fractalNoise" baseFrequency="0.05" numOctaves="2" seed="8" result="n"/><feDisplacementMap in="SourceGraphic" in2="n" scale="9" xChannelSelector="R" yChannelSelector="G"/><feGaussianBlur stdDeviation="2.4"/></filter>
<filter id="hnoise" x="0" y="0" width="100%" height="100%"><feTurbulence type="fractalNoise" baseFrequency="0.3" numOctaves="2" seed="5"/><feColorMatrix type="matrix" values="0 0 0 0 0.8  0 0 0 0 0.84  0 0 0 0 0.96  0 0 0 -2.2 1.25"/></filter>
<filter id="hnoised" x="0" y="0" width="100%" height="100%"><feTurbulence type="fractalNoise" baseFrequency="0.2" numOctaves="2" seed="9"/><feColorMatrix type="matrix" values="0 0 0 0 0.18  0 0 0 0 0.14  0 0 0 0 0.34  0 0 0 -2.6 1.5"/></filter>
<filter id="hnoisem" x="0" y="0" width="100%" height="100%"><feTurbulence type="fractalNoise" baseFrequency="0.09" numOctaves="3" seed="14"/><feColorMatrix type="matrix" values="0 0 0 0 0.42  0 0 0 0 0.44  0 0 0 0 0.66  0 0 0 -2.4 1.35"/><feGaussianBlur stdDeviation="1"/></filter>
<clipPath id="hclip"><circle cx="168.0" cy="99.6" r="58"/></clipPath>
<clipPath id="hmclip"><path d="M362 -5 C348 6 338 10 334 18 C328 36 322 50 312 62 C302 74 294 80 290 86 C284 96 279 106 275 114 C269 121 261 122 256 128 C248 140 240 152 235 164 C228 180 222 196 216 214 L400 214 L400 -5 Z"/></clipPath>
</defs><rect width="390" height="208" fill="url(#hbg)"/><ellipse cx="24" cy="56" rx="72" ry="92" fill="url(#hblue)"/><ellipse cx="30" cy="194" rx="150" ry="80" fill="url(#hrose)"/><ellipse cx="180" cy="215" rx="90" ry="45" fill="url(#hmaroon)"/><ellipse cx="290" cy="45" rx="85" ry="112" fill="url(#hdark)"/><g filter="url(#hmrough)"><path d="M362 -5 C348 6 338 10 334 18 C328 36 322 50 312 62 C302 74 294 80 290 86 C284 96 279 106 275 114 C269 121 261 122 256 128 C248 140 240 152 235 164 C228 180 222 196 216 214 L400 214 L400 -5 Z" fill="url(#hmass)"/></g><g clip-path="url(#hmclip)"><g filter="url(#hb5)"><path d="M262 120 C252 140 242 156 232 176 C226 190 222 200 218 214 L296 214 C298 190 306 160 318 134 C306 112 280 104 262 120Z" fill="#d8a0d6" opacity="0.88"/><ellipse cx="352" cy="66" rx="42" ry="50" fill="#dfe5f2" opacity="0.62"/><ellipse cx="312" cy="104" rx="42" ry="15" fill="#9686c2" opacity="0.6" transform="rotate(-42 312 104)"/><ellipse cx="352" cy="150" rx="34" ry="34" fill="#dcd6ea" opacity="0.85"/><ellipse cx="382" cy="18" rx="26" ry="36" fill="#a2a6cc" opacity="0.8"/><ellipse cx="380" cy="212" rx="40" ry="18" fill="#6d5278" opacity="0.8"/></g><g filter="url(#hb2)"><ellipse cx="258" cy="176" rx="10" ry="30" fill="#f0b4e2" opacity="0.55" transform="rotate(24 258 176)"/><ellipse cx="304" cy="168" rx="5" ry="30" fill="#e2688e" opacity="0.45" transform="rotate(18 304 168)"/><ellipse cx="282" cy="150" rx="5" ry="22" fill="#c070b8" opacity="0.4" transform="rotate(24 282 150)"/></g></g>
<g clip-path="url(#hmclip)"><rect x="200" y="0" width="190" height="208" filter="url(#hnoisem)" opacity="0.45"/><rect x="200" y="0" width="190" height="208" filter="url(#hnoise)" opacity="0.3"/></g><g filter="url(#hb1)"><g filter="url(#hrough)"><circle cx="162.1" cy="40.1" r="7.2" fill="#6898b4"/><circle cx="161.4" cy="33.1" r="6.4" fill="#6898b4"/><circle cx="154.7" cy="28.0" r="6.2" fill="#6898b4"/><circle cx="167.0" cy="26.8" r="6.2" fill="#6898b4"/><circle cx="160.5" cy="24.2" r="6.2" fill="#6898b4"/><circle cx="187.2" cy="44.7" r="7.2" fill="#7ab2c8"/><circle cx="189.5" cy="38.1" r="6.4" fill="#7ab2c8"/><circle cx="185.7" cy="30.7" r="6.2" fill="#7ab2c8"/><circle cx="197.1" cy="34.7" r="6.2" fill="#7ab2c8"/><circle cx="192.4" cy="29.6" r="6.2" fill="#7ab2c8"/><circle cx="194.6" cy="28.7" r="3.2" fill="#cfe6f0" opacity="0.85"/><circle cx="204.0" cy="51.9" r="7.2" fill="#7ab2c8"/><circle cx="208.2" cy="46.4" r="6.4" fill="#7ab2c8"/><circle cx="206.8" cy="38.1" r="6.2" fill="#7ab2c8"/><circle cx="216.6" cy="45.5" r="6.2" fill="#7ab2c8"/><circle cx="213.7" cy="39.2" r="6.2" fill="#7ab2c8"/><circle cx="216.4" cy="38.6" r="3.2" fill="#cfe6f0" opacity="0.85"/><circle cx="218.3" cy="74.0" r="7.2" fill="#7ab2c8"/><circle cx="224.5" cy="70.8" r="6.4" fill="#7ab2c8"/><circle cx="226.9" cy="62.9" r="6.2" fill="#7ab2c8"/><circle cx="232.3" cy="73.4" r="6.2" fill="#7ab2c8"/><circle cx="232.5" cy="66.7" r="6.2" fill="#7ab2c8"/><circle cx="235.8" cy="66.8" r="3.2" fill="#cfe6f0" opacity="0.85"/><circle cx="220.7" cy="92.0" r="7.2" fill="#7ab2c8"/><circle cx="227.6" cy="91.0" r="6.4" fill="#7ab2c8"/><circle cx="232.5" cy="84.6" r="6.2" fill="#7ab2c8"/><circle cx="234.1" cy="95.7" r="6.2" fill="#7ab2c8"/><circle cx="236.5" cy="89.7" r="6.2" fill="#7ab2c8"/><circle cx="240.0" cy="90.4" r="3.2" fill="#cfe6f0" opacity="0.85"/><circle cx="221.6" cy="108.0" r="7.2" fill="#7ab2c8"/><circle cx="228.5" cy="109.1" r="6.4" fill="#7ab2c8"/><circle cx="235.0" cy="104.3" r="6.2" fill="#7ab2c8"/><circle cx="233.3" cy="115.6" r="6.2" fill="#7ab2c8"/><circle cx="237.4" cy="110.5" r="6.2" fill="#7ab2c8"/><circle cx="240.8" cy="111.8" r="3.2" fill="#cfe6f0" opacity="0.85"/><circle cx="212.2" cy="130.2" r="7.2" fill="#7ab2c8"/><circle cx="217.9" cy="134.2" r="6.4" fill="#7ab2c8"/><circle cx="225.9" cy="132.9" r="6.2" fill="#7ab2c8"/><circle cx="219.4" cy="142.2" r="6.2" fill="#7ab2c8"/><circle cx="225.3" cy="139.4" r="6.2" fill="#7ab2c8"/><circle cx="228.5" cy="141.5" r="3.2" fill="#cfe6f0" opacity="0.85"/><circle cx="198.0" cy="146.9" r="7.2" fill="#7ab2c8"/><circle cx="201.8" cy="152.8" r="6.4" fill="#7ab2c8"/><circle cx="209.8" cy="154.5" r="6.2" fill="#7ab2c8"/><circle cx="199.9" cy="160.8" r="6.2" fill="#7ab2c8"/><circle cx="206.6" cy="160.4" r="6.2" fill="#7ab2c8"/><circle cx="209.2" cy="163.1" r="3.2" fill="#cfe6f0" opacity="0.85"/><circle cx="182.9" cy="152.7" r="7.2" fill="#7ab2c8"/><circle cx="184.8" cy="159.4" r="6.4" fill="#7ab2c8"/><circle cx="192.0" cy="163.4" r="6.2" fill="#7ab2c8"/><circle cx="180.8" cy="166.5" r="6.2" fill="#7ab2c8"/><circle cx="187.3" cy="168.1" r="6.2" fill="#7ab2c8"/><circle cx="189.3" cy="171.0" r="3.2" fill="#cfe6f0" opacity="0.85"/><circle cx="155.9" cy="158.5" r="7.2" fill="#6898b4"/><circle cx="154.5" cy="165.3" r="6.4" fill="#6898b4"/><circle cx="159.5" cy="172.2" r="6.2" fill="#6898b4"/><circle cx="147.3" cy="169.7" r="6.2" fill="#6898b4"/><circle cx="152.7" cy="174.1" r="6.2" fill="#6898b4"/><circle cx="137.1" cy="149.5" r="7.2" fill="#5a84a6"/><circle cx="133.4" cy="155.5" r="6.4" fill="#5a84a6"/><circle cx="135.6" cy="163.6" r="6.2" fill="#5a84a6"/><circle cx="125.2" cy="157.1" r="6.2" fill="#5a84a6"/><circle cx="128.7" cy="163.1" r="6.2" fill="#5a84a6"/><circle cx="127.5" cy="138.4" r="7.2" fill="#5a84a6"/><circle cx="122.5" cy="143.2" r="6.4" fill="#5a84a6"/><circle cx="122.4" cy="151.5" r="6.2" fill="#5a84a6"/><circle cx="114.3" cy="143.0" r="6.2" fill="#5a84a6"/><circle cx="116.0" cy="149.5" r="6.2" fill="#5a84a6"/><circle cx="117.8" cy="116.8" r="7.2" fill="#5a84a6"/><circle cx="111.1" cy="119.1" r="6.4" fill="#5a84a6"/><circle cx="107.5" cy="126.2" r="6.2" fill="#5a84a6"/><circle cx="103.9" cy="115.6" r="6.2" fill="#5a84a6"/><circle cx="102.6" cy="122.0" r="6.2" fill="#5a84a6"/><circle cx="114.3" cy="94.0" r="7.2" fill="#5a84a6"/><circle cx="107.3" cy="93.3" r="6.4" fill="#5a84a6"/><circle cx="101.0" cy="98.4" r="6.2" fill="#5a84a6"/><circle cx="102.2" cy="87.1" r="6.2" fill="#5a84a6"/><circle cx="98.4" cy="92.4" r="6.2" fill="#5a84a6"/><circle cx="113.6" cy="79.0" r="7.2" fill="#5a84a6"/><circle cx="107.1" cy="76.6" r="6.4" fill="#5a84a6"/><circle cx="99.6" cy="80.2" r="6.2" fill="#5a84a6"/><circle cx="103.8" cy="68.9" r="6.2" fill="#5a84a6"/><circle cx="98.7" cy="73.4" r="6.2" fill="#5a84a6"/><circle cx="123.0" cy="59.6" r="7.2" fill="#5a84a6"/><circle cx="117.8" cy="55.0" r="6.4" fill="#5a84a6"/><circle cx="109.4" cy="55.8" r="6.2" fill="#5a84a6"/><circle cx="117.7" cy="46.5" r="6.2" fill="#5a84a6"/><circle cx="111.1" cy="49.0" r="6.2" fill="#5a84a6"/><circle cx="143.7" cy="46.4" r="7.2" fill="#5a84a6"/><circle cx="140.8" cy="40.0" r="6.4" fill="#5a84a6"/><circle cx="132.9" cy="37.3" r="6.2" fill="#5a84a6"/><circle cx="143.9" cy="32.3" r="6.2" fill="#5a84a6"/><circle cx="137.0" cy="31.8" r="6.2" fill="#5a84a6"/></g></g><mask id="hsm"><g filter="url(#hrough)"><circle cx="162.1" cy="40.1" r="7.2" fill="#fff"/><circle cx="161.4" cy="33.1" r="6.4" fill="#fff"/><circle cx="154.7" cy="28.0" r="6.2" fill="#fff"/><circle cx="167.0" cy="26.8" r="6.2" fill="#fff"/><circle cx="160.5" cy="24.2" r="6.2" fill="#fff"/><circle cx="187.2" cy="44.7" r="7.2" fill="#fff"/><circle cx="189.5" cy="38.1" r="6.4" fill="#fff"/><circle cx="185.7" cy="30.7" r="6.2" fill="#fff"/><circle cx="197.1" cy="34.7" r="6.2" fill="#fff"/><circle cx="192.4" cy="29.6" r="6.2" fill="#fff"/><circle cx="194.6" cy="28.7" r="3.2" fill="#fff"/><circle cx="204.0" cy="51.9" r="7.2" fill="#fff"/><circle cx="208.2" cy="46.4" r="6.4" fill="#fff"/><circle cx="206.8" cy="38.1" r="6.2" fill="#fff"/><circle cx="216.6" cy="45.5" r="6.2" fill="#fff"/><circle cx="213.7" cy="39.2" r="6.2" fill="#fff"/><circle cx="216.4" cy="38.6" r="3.2" fill="#fff"/><circle cx="218.3" cy="74.0" r="7.2" fill="#fff"/><circle cx="224.5" cy="70.8" r="6.4" fill="#fff"/><circle cx="226.9" cy="62.9" r="6.2" fill="#fff"/><circle cx="232.3" cy="73.4" r="6.2" fill="#fff"/><circle cx="232.5" cy="66.7" r="6.2" fill="#fff"/><circle cx="235.8" cy="66.8" r="3.2" fill="#fff"/><circle cx="220.7" cy="92.0" r="7.2" fill="#fff"/><circle cx="227.6" cy="91.0" r="6.4" fill="#fff"/><circle cx="232.5" cy="84.6" r="6.2" fill="#fff"/><circle cx="234.1" cy="95.7" r="6.2" fill="#fff"/><circle cx="236.5" cy="89.7" r="6.2" fill="#fff"/><circle cx="240.0" cy="90.4" r="3.2" fill="#fff"/><circle cx="221.6" cy="108.0" r="7.2" fill="#fff"/><circle cx="228.5" cy="109.1" r="6.4" fill="#fff"/><circle cx="235.0" cy="104.3" r="6.2" fill="#fff"/><circle cx="233.3" cy="115.6" r="6.2" fill="#fff"/><circle cx="237.4" cy="110.5" r="6.2" fill="#fff"/><circle cx="240.8" cy="111.8" r="3.2" fill="#fff"/><circle cx="212.2" cy="130.2" r="7.2" fill="#fff"/><circle cx="217.9" cy="134.2" r="6.4" fill="#fff"/><circle cx="225.9" cy="132.9" r="6.2" fill="#fff"/><circle cx="219.4" cy="142.2" r="6.2" fill="#fff"/><circle cx="225.3" cy="139.4" r="6.2" fill="#fff"/><circle cx="228.5" cy="141.5" r="3.2" fill="#fff"/><circle cx="198.0" cy="146.9" r="7.2" fill="#fff"/><circle cx="201.8" cy="152.8" r="6.4" fill="#fff"/><circle cx="209.8" cy="154.5" r="6.2" fill="#fff"/><circle cx="199.9" cy="160.8" r="6.2" fill="#fff"/><circle cx="206.6" cy="160.4" r="6.2" fill="#fff"/><circle cx="209.2" cy="163.1" r="3.2" fill="#fff"/><circle cx="182.9" cy="152.7" r="7.2" fill="#fff"/><circle cx="184.8" cy="159.4" r="6.4" fill="#fff"/><circle cx="192.0" cy="163.4" r="6.2" fill="#fff"/><circle cx="180.8" cy="166.5" r="6.2" fill="#fff"/><circle cx="187.3" cy="168.1" r="6.2" fill="#fff"/><circle cx="189.3" cy="171.0" r="3.2" fill="#fff"/><circle cx="155.9" cy="158.5" r="7.2" fill="#fff"/><circle cx="154.5" cy="165.3" r="6.4" fill="#fff"/><circle cx="159.5" cy="172.2" r="6.2" fill="#fff"/><circle cx="147.3" cy="169.7" r="6.2" fill="#fff"/><circle cx="152.7" cy="174.1" r="6.2" fill="#fff"/><circle cx="137.1" cy="149.5" r="7.2" fill="#fff"/><circle cx="133.4" cy="155.5" r="6.4" fill="#fff"/><circle cx="135.6" cy="163.6" r="6.2" fill="#fff"/><circle cx="125.2" cy="157.1" r="6.2" fill="#fff"/><circle cx="128.7" cy="163.1" r="6.2" fill="#fff"/><circle cx="127.5" cy="138.4" r="7.2" fill="#fff"/><circle cx="122.5" cy="143.2" r="6.4" fill="#fff"/><circle cx="122.4" cy="151.5" r="6.2" fill="#fff"/><circle cx="114.3" cy="143.0" r="6.2" fill="#fff"/><circle cx="116.0" cy="149.5" r="6.2" fill="#fff"/><circle cx="117.8" cy="116.8" r="7.2" fill="#fff"/><circle cx="111.1" cy="119.1" r="6.4" fill="#fff"/><circle cx="107.5" cy="126.2" r="6.2" fill="#fff"/><circle cx="103.9" cy="115.6" r="6.2" fill="#fff"/><circle cx="102.6" cy="122.0" r="6.2" fill="#fff"/><circle cx="114.3" cy="94.0" r="7.2" fill="#fff"/><circle cx="107.3" cy="93.3" r="6.4" fill="#fff"/><circle cx="101.0" cy="98.4" r="6.2" fill="#fff"/><circle cx="102.2" cy="87.1" r="6.2" fill="#fff"/><circle cx="98.4" cy="92.4" r="6.2" fill="#fff"/><circle cx="113.6" cy="79.0" r="7.2" fill="#fff"/><circle cx="107.1" cy="76.6" r="6.4" fill="#fff"/><circle cx="99.6" cy="80.2" r="6.2" fill="#fff"/><circle cx="103.8" cy="68.9" r="6.2" fill="#fff"/><circle cx="98.7" cy="73.4" r="6.2" fill="#fff"/><circle cx="123.0" cy="59.6" r="7.2" fill="#fff"/><circle cx="117.8" cy="55.0" r="6.4" fill="#fff"/><circle cx="109.4" cy="55.8" r="6.2" fill="#fff"/><circle cx="117.7" cy="46.5" r="6.2" fill="#fff"/><circle cx="111.1" cy="49.0" r="6.2" fill="#fff"/><circle cx="143.7" cy="46.4" r="7.2" fill="#fff"/><circle cx="140.8" cy="40.0" r="6.4" fill="#fff"/><circle cx="132.9" cy="37.3" r="6.2" fill="#fff"/><circle cx="143.9" cy="32.3" r="6.2" fill="#fff"/><circle cx="137.0" cy="31.8" r="6.2" fill="#fff"/></g></mask><g mask="url(#hsm)" opacity="0.6"><rect x="80" y="10" width="180" height="180" filter="url(#hnoised)"/></g><g filter="url(#hb1)"><circle cx="168.0" cy="99.6" r="57.5" fill="url(#hbody)"/></g><g clip-path="url(#hclip)"><g filter="url(#hb1)" opacity="0.9"><g filter="url(#hrough)"><circle cx="146.9" cy="128.5" r="5.1" fill="#7fb2cc"/><circle cx="144.9" cy="128.9" r="5.1" fill="#7fb2cc"/><circle cx="145.2" cy="128.8" r="5.1" fill="#7fb2cc"/><circle cx="220.7" cy="108.7" r="5.2" fill="#7098c0"/><circle cx="221.1" cy="109.0" r="5.2" fill="#7098c0"/><circle cx="220.3" cy="108.4" r="5.2" fill="#7098c0"/><circle cx="174.4" cy="71.3" r="6.5" fill="#7098c0"/><circle cx="172.8" cy="78.1" r="6.5" fill="#7098c0"/><circle cx="171.0" cy="71.4" r="6.5" fill="#7098c0"/><circle cx="209.5" cy="68.0" r="6.2" fill="#7098c0"/><circle cx="206.8" cy="66.0" r="6.2" fill="#7098c0"/><circle cx="207.6" cy="72.9" r="6.2" fill="#7098c0"/><circle cx="129.1" cy="78.5" r="5.0" fill="#7fb2cc"/><circle cx="129.7" cy="77.2" r="5.0" fill="#7fb2cc"/><circle cx="123.3" cy="78.5" r="5.0" fill="#7fb2cc"/><circle cx="121.1" cy="106.2" r="5.2" fill="#6690b6"/><circle cx="120.3" cy="104.7" r="5.2" fill="#6690b6"/><circle cx="116.3" cy="110.5" r="5.2" fill="#6690b6"/><circle cx="137.8" cy="108.1" r="6.6" fill="#78aac8"/><circle cx="138.1" cy="111.5" r="6.6" fill="#78aac8"/><circle cx="136.3" cy="113.4" r="6.6" fill="#78aac8"/><circle cx="157.5" cy="106.4" r="5.0" fill="#7098c0"/><circle cx="164.6" cy="105.0" r="5.0" fill="#7098c0"/><circle cx="164.0" cy="103.5" r="5.0" fill="#7098c0"/><circle cx="155.5" cy="41.6" r="5.7" fill="#6690b6"/><circle cx="155.0" cy="48.0" r="5.7" fill="#6690b6"/><circle cx="155.9" cy="41.5" r="5.7" fill="#6690b6"/><circle cx="154.5" cy="83.1" r="5.1" fill="#6690b6"/><circle cx="147.8" cy="84.9" r="5.1" fill="#6690b6"/><circle cx="147.8" cy="84.8" r="5.1" fill="#6690b6"/><circle cx="120.6" cy="126.9" r="6.5" fill="#7098c0"/><circle cx="119.5" cy="127.3" r="6.5" fill="#7098c0"/><circle cx="118.5" cy="132.3" r="6.5" fill="#7098c0"/><circle cx="165.5" cy="153.1" r="5.1" fill="#6c98bc"/><circle cx="172.5" cy="152.0" r="5.1" fill="#6c98bc"/><circle cx="165.4" cy="152.5" r="5.1" fill="#6c98bc"/><circle cx="162.9" cy="129.7" r="5.6" fill="#7fb2cc"/><circle cx="163.0" cy="130.7" r="5.6" fill="#7fb2cc"/><circle cx="169.5" cy="127.8" r="5.6" fill="#7fb2cc"/><circle cx="219.5" cy="95.8" r="5.7" fill="#7098c0"/><circle cx="217.5" cy="97.9" r="5.7" fill="#7098c0"/><circle cx="214.4" cy="97.8" r="5.7" fill="#7098c0"/><circle cx="193.5" cy="100.6" r="6.3" fill="#7098c0"/><circle cx="193.1" cy="107.8" r="6.3" fill="#7098c0"/><circle cx="196.2" cy="101.9" r="6.3" fill="#7098c0"/><circle cx="183.0" cy="45.5" r="5.9" fill="#7098c0"/><circle cx="185.3" cy="46.7" r="5.9" fill="#7098c0"/><circle cx="179.2" cy="49.9" r="5.9" fill="#7098c0"/><circle cx="135.4" cy="62.5" r="5.9" fill="#78aac8"/><circle cx="133.5" cy="56.5" r="5.9" fill="#78aac8"/><circle cx="138.4" cy="56.3" r="5.9" fill="#78aac8"/><circle cx="199.1" cy="131.7" r="5.4" fill="#7fb2cc"/><circle cx="198.7" cy="125.9" r="5.4" fill="#7fb2cc"/><circle cx="195.4" cy="125.6" r="5.4" fill="#7fb2cc"/><circle cx="195.8" cy="80.0" r="5.7" fill="#6c98bc"/><circle cx="189.8" cy="79.8" r="5.7" fill="#6c98bc"/><circle cx="195.0" cy="79.1" r="5.7" fill="#6c98bc"/><circle cx="186.8" cy="147.9" r="4.9" fill="#78aac8"/><circle cx="186.8" cy="149.7" r="4.9" fill="#78aac8"/><circle cx="189.6" cy="152.2" r="4.9" fill="#78aac8"/><circle cx="156.1" cy="66.4" r="5.4" fill="#7fb2cc"/><circle cx="155.8" cy="66.6" r="5.4" fill="#7fb2cc"/><circle cx="156.7" cy="65.8" r="5.4" fill="#7fb2cc"/><circle cx="115.3" cy="86.6" r="5.0" fill="#78aac8"/><circle cx="112.1" cy="91.4" r="5.0" fill="#78aac8"/><circle cx="113.3" cy="93.1" r="5.0" fill="#78aac8"/><circle cx="175.8" cy="111.4" r="5.7" fill="#7fb2cc"/><circle cx="182.1" cy="114.0" r="5.7" fill="#7fb2cc"/><circle cx="175.8" cy="111.5" r="5.7" fill="#7fb2cc"/><circle cx="178.7" cy="95.7" r="5.0" fill="#6690b6"/><circle cx="174.0" cy="99.4" r="5.0" fill="#6690b6"/><circle cx="173.9" cy="99.4" r="5.0" fill="#6690b6"/><circle cx="147.8" cy="152.0" r="4.8" fill="#7fb2cc"/><circle cx="144.0" cy="153.8" r="4.8" fill="#7fb2cc"/><circle cx="144.7" cy="153.9" r="4.8" fill="#7fb2cc"/><circle cx="130.1" cy="92.0" r="5.6" fill="#7098c0"/><circle cx="132.5" cy="89.5" r="5.6" fill="#7098c0"/><circle cx="132.7" cy="89.4" r="5.6" fill="#7098c0"/></g></g><rect x="100" y="35" width="140" height="130" filter="url(#hnoise)" opacity="0.3"/><rect x="100" y="35" width="140" height="130" filter="url(#hnoised)" opacity="0.35"/><g filter="url(#hb5)"><circle cx="128.0" cy="91.6" r="52" fill="#3a1f58" opacity="0.4"/><circle cx="182.0" cy="123.6" r="34" fill="#c8508f" opacity="0.3"/></g></g></svg></div><div class="nav" style="top:246px"><svg viewBox="0 0 24 24"><path d="M10 20v-6h4v6h5v-8h3L12 3 2 12h3v8z"/></svg><span>Home Page</span></div><div class="nav" style="top:310px"><svg viewBox="0 0 24 24"><path d="M12 2C6.49 2 2 6.49 2 12s4.49 10 10 10 10-4.49 10-10S17.51 2 12 2zm0 18c-4.41 0-8-3.59-8-8s3.59-8 8-8 8 3.59 8 8-3.59 8-8 8zm3-8c0 1.66-1.34 3-3 3s-3-1.34-3-3 1.34-3 3-3 3 1.34 3 3z"/></svg><span>Descriptive Analysis</span></div><div class="nav act" style="top:374px"><svg viewBox="0 0 24 24"><path d="M16 6l2.29 2.29-4.88 4.88-4-4L2 16.59 3.41 18l6-6 4 4 6.3-6.29L22 12V6z"/></svg><span>Growth rate and</span></div><div class="nav" style="top:438px"><svg viewBox="0 0 24 24"><path d="M20 2H4c-1.1 0-1.99.9-1.99 2L2 22l4-4h14c1.1 0 2-.9 2-2V4c0-1.1-.9-2-2-2zM6 9h12v2H6V9zm8 5H6v-2h8v2zm4-6H6V6h12v2z"/></svg><span>Daily cases</span></div><div class="nav" style="top:502px"><svg viewBox="0 0 24 24"><path d="M16 6l2.29 2.29-4.88 4.88-4-4L2 16.59 3.41 18l6-6 4 4 6.3-6.29L22 12V6z"/></svg><span>Cumulative</span></div><div class="nav" style="top:566px"><svg viewBox="0 0 24 24"><path d="M21 2H3c-1.1 0-2 .9-2 2v12c0 1.1.9 2 2 2h7l-2 3v1h8v-1l-2-3h7c1.1 0 2-.9 2-2V4c0-1.1-.9-2-2-2zm0 12H3V4h18v10z"/></svg><span>Newspaper Analysis</span></div><div class="nav" style="top:630px"><svg viewBox="0 0 24 24"><path d="M21 3H3c-1.1 0-2 .9-2 2v12c0 1.1.9 2 2 2h5v2h8v-2h5c1.1 0 1.99-.9 1.99-2L23 5c0-1.1-.9-2-2-2zm0 14H3V5h18v12z"/></svg><span>TV Analysis</span></div><div id="author"><span class="abs" style="left:112px;top:27.5px;font-size:20px;line-height:30px;color:#777;-webkit-text-stroke:0.5px #fff">Author</span><svg class="abs" style="left:195.6px;top:15.6px;width:32.4px;height:32.4px;fill:#858585" viewBox="0 0 24 24"><path d="M19 19H5V5h7V3H5c-1.11 0-2 .9-2 2v14c0 1.1.89 2 2 2h14c1.1 0 2-.9 2-2v-7h-2v7zM14 3v2h3.59l-9.83 9.83 1.41 1.41L19 6.41V10h2V3h-7z"/></svg></div></div><div class="abs" style="left:0;top:1218px;width:2224px;height:66px;background:linear-gradient(to bottom,rgba(0,0,0,0),rgba(0,0,0,0.075));pointer-events:none"></div></body></html>
